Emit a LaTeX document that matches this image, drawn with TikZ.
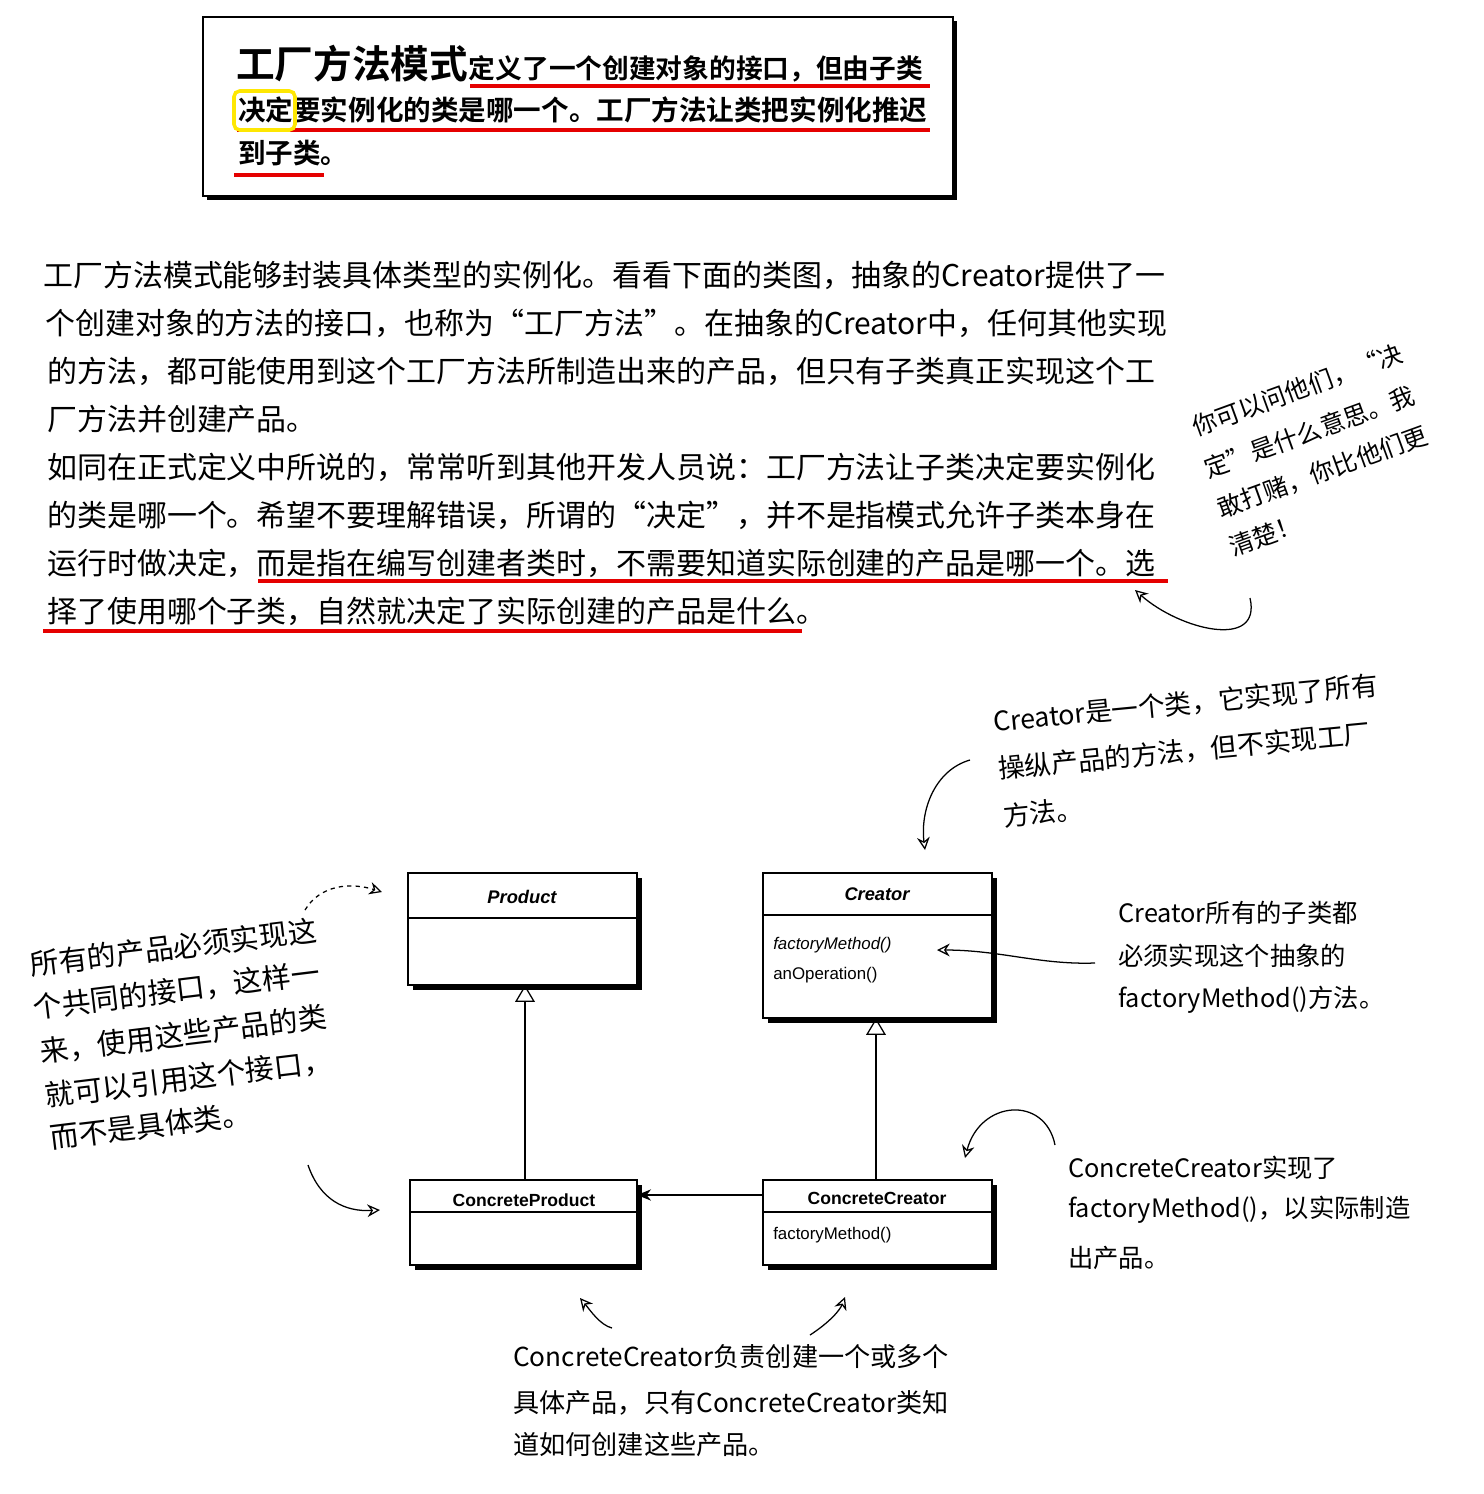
\documentclass[tikz,border=0pt]{standalone}
\usepackage{fontspec}
\setmainfont{Liberation Sans}
\newfontfamily\cjk{Noto Sans CJK SC}
\newfontfamily\cjkb[BoldFont={Noto Sans CJK SC Bold}]{Noto Sans CJK SC}
\usetikzlibrary{arrows.meta}
\begin{document}
\begin{tikzpicture}[x=0.025cm,y=-0.025cm,
  txt/.style={anchor=west,inner sep=0pt,font=\cjk\fontsize{21.3}{24}\selectfont},
  hand/.style={anchor=west,inner sep=0pt,font=\cjk\fontsize{18}{20}\selectfont},
  redl/.style={red!90!black,line width=2.2pt},
  cls/.style={draw,line width=0.8pt,fill=white},
  ctitle/.style={font=\bfseries\itshape\fontsize{13}{15}\selectfont},
  ctitlen/.style={font=\bfseries\fontsize{12.5}{15}\selectfont},
  meth/.style={anchor=west,inner sep=0pt,font=\fontsize{12}{14}\selectfont},
  harrow/.style={line width=0.9pt,-{Stealth[open,length=9pt,width=9pt]}},
  inh/.style={line width=0.9pt,-{Triangle[open,length=12pt,width=14pt]}}]
\useasboundingbox[fill=white] (0,0) rectangle (1484,1494);
% definition box
\fill (207,21) rectangle (957,200);
\draw[line width=1.2pt,fill=white] (203,17) rectangle (953,196);
\node[anchor=base west,inner sep=0pt,font=\cjkb\bfseries\fontsize{27.5}{30}\selectfont] (d1a) at (236,78) {工厂方法模式};
\node[anchor=base west,inner sep=0pt,font=\cjkb\bfseries\fontsize{19}{22}\selectfont] (d1b) at (d1a.base east) {定义了一个创建对象的接口，但由子类};
\node[anchor=base west,inner sep=0pt,font=\cjkb\bfseries\fontsize{19.6}{22}\selectfont] (d2) at (238,120) {决定要实例化的类是哪一个。工厂方法让类把实例化推迟};
\node[anchor=base west,inner sep=0pt,font=\cjkb\bfseries\fontsize{19.6}{22}\selectfont] (d3) at (238,163) {到子类。};
\draw[redl] (470,86) -- (930,86);
\draw[redl] (237,130) -- (930,130);
\draw[redl] (234,175) -- (324,175);
\draw[yellow!90!orange,line width=2.5pt,rounded corners=4pt] (234,91) rectangle (295,130);
% paragraph
\node[txt] (p1) at (43,275) {工厂方法模式能够封装具体类型的实例化。看看下面的类图，抽象的Creator提供了一};
\node[txt] (p2) at (45,323) {个创建对象的方法的接口，也称为“工厂方法”。在抽象的Creator中，任何其他实现};
\node[txt] (p3) at (47,371) {的方法，都可能使用到这个工厂方法所制造出来的产品，但只有子类真正实现这个工};
\node[txt] (p4) at (47,419) {厂方法并创建产品。};
\node[txt] (p5) at (47,467) {如同在正式定义中所说的，常常听到其他开发人员说：工厂方法让子类决定要实例化};
\node[txt] (p6) at (47,515) {的类是哪一个。希望不要理解错误，所谓的“决定”，并不是指模式允许子类本身在};
\node[txt] (p7) at (47,563) {运行时做决定，而是指在编写创建者类时，不需要知道实际创建的产品是哪一个。选};
\node[txt] (p8) at (47,611) {择了使用哪个子类，自然就决定了实际创建的产品是什么。};
\draw[redl] (258,581) -- (1168,581);
\draw[redl] (43,631) -- (802,631);
% handwritten top right
\node[hand,rotate=20,font=\cjk\fontsize{17.5}{20}\selectfont] (h1) at (1193,428) {你可以问他们，“决};
\node[hand,rotate=20,font=\cjk\fontsize{17.5}{20}\selectfont] (h2) at (1205,470) {定”是什么意思。我};
\node[hand,rotate=20,font=\cjk\fontsize{17.5}{20}\selectfont] (h3) at (1218,510) {敢打赌，你比他们更};
\node[hand,rotate=20,font=\cjk\fontsize{17.5}{20}\selectfont] (h4) at (1230,548) {清楚！};
\coordinate (ha) at (1250,598);
\coordinate (hb) at (1135,590);
\draw[harrow] (ha) .. controls (1262,650) and (1180,630) .. (hb);
% classes
\fill (413,878) rectangle (642,990);
\draw[cls] (408,873) rectangle (637,985);
\draw[line width=0.8pt] (408,918) -- (637,918);
\node[ctitle] (product) at (522,897) {Product};
\fill (768,878) rectangle (997,1023);
\draw[cls] (763,873) rectangle (992,1018);
\draw[line width=0.8pt] (763,915) -- (992,915);
\node[ctitle] (creator) at (877,894) {Creator};
\node[meth,font=\itshape\fontsize{12}{14}\selectfont] (fm1) at (773,945) {factoryMethod()};
\node[meth] (ao) at (773,975) {anOperation()};
\fill (415,1185) rectangle (642,1270);
\draw[cls] (410,1180) rectangle (637,1265);
\draw[line width=0.8pt] (410,1212) -- (637,1212);
\node[ctitlen] (cprod) at (524,1200) {ConcreteProduct};
\fill (768,1185) rectangle (997,1270);
\draw[cls] (763,1180) rectangle (992,1265);
\draw[line width=0.8pt] (763,1212) -- (992,1212);
\node[ctitlen] (ccre) at (877,1198) {ConcreteCreator};
\node[meth] (fm2) at (773,1235) {factoryMethod()};
\coordinate (cpt) at (525,1180); \coordinate (pb) at (525,985);
\coordinate (cct) at (876,1180); \coordinate (cb) at (876,1018);
\draw[inh] (cpt) -- (pb);
\draw[inh] (cct) -- (cb);
\coordinate (ccl) at (763,1195); \coordinate (cpr) at (637,1195);
\draw[line width=0.9pt,-{Stealth[length=10pt,width=8pt]}] (ccl) -- (cpr);
% note creator
\node[hand,rotate=5.5,font=\cjk\fontsize{19}{22}\selectfont] (n1) at (993,722) {Creator是一个类，它实现了所有};
\node[hand,rotate=5.5,font=\cjk\fontsize{19}{22}\selectfont] (n2) at (998,769) {操纵产品的方法，但不实现工厂};
\node[hand,rotate=5.5,font=\cjk\fontsize{19}{22}\selectfont] (n3) at (1003,816) {方法。};
\coordinate (na) at (970,760); \coordinate (nb) at (925,850);
\draw[harrow] (na) .. controls (935,770) and (920,810) .. (nb);
% left note
\node[hand,rotate=7,font=\cjk\fontsize{20.5}{22}\selectfont] (l1) at (30,965) {所有的产品必须实现这};
\node[hand,rotate=7,font=\cjk\fontsize{20.5}{22}\selectfont] (l2) at (33,1008) {个共同的接口，这样一};
\node[hand,rotate=7,font=\cjk\fontsize{20.5}{22}\selectfont] (l3) at (40,1052) {来，使用这些产品的类};
\node[hand,rotate=7,font=\cjk\fontsize{20.5}{22}\selectfont] (l4) at (45,1096) {就可以引用这个接口，};
\node[hand,rotate=7,font=\cjk\fontsize{20.5}{22}\selectfont] (l5) at (50,1138) {而不是具体类。};
\coordinate (la) at (305,910); \coordinate (lb) at (382,892);
\draw[harrow,dashed] (la) .. controls (320,885) and (350,882) .. (lb);
\coordinate (lc) at (308,1165); \coordinate (ld) at (380,1210);
\draw[harrow] (lc) .. controls (320,1200) and (345,1212) .. (ld);
% right note
\node[hand] (r1) at (1118,913) {Creator所有的子类都};
\node[hand] (r2) at (1118,956) {必须实现这个抽象的};
\node[hand] (r3) at (1118,1000) {factoryMethod()方法。};
\coordinate (ra) at (1095,963); \coordinate (rb) at (937,950);
\draw[harrow] (ra) .. controls (1040,965) and (1000,950) .. (rb);
% concrete creator note
\node[hand,font=\cjk\fontsize{18}{22}\selectfont] (c1) at (1068,1168) {ConcreteCreator实现了};
\node[hand,font=\cjk\fontsize{18}{22}\selectfont] (c2) at (1068,1210) {factoryMethod()，以实际制造};
\node[hand,font=\cjk\fontsize{18}{22}\selectfont] (c3) at (1068,1258) {出产品。};
\coordinate (ca) at (1055,1145); \coordinate (cb2) at (965,1158);
\draw[harrow] (ca) .. controls (1045,1095) and (980,1100) .. (cb2);
% bottom note
\node[hand,font=\cjk\fontsize{18.6}{22}\selectfont] (b1) at (513,1357) {ConcreteCreator负责创建一个或多个};
\node[hand,font=\cjk\fontsize{18.6}{22}\selectfont] (b2) at (513,1403) {具体产品，只有ConcreteCreator类知};
\node[hand,font=\cjk\fontsize{18.6}{22}\selectfont] (b3) at (513,1445) {道如何创建这些产品。};
\coordinate (ba) at (612,1328); \coordinate (bb) at (580,1298);
\draw[harrow] (ba) .. controls (600,1325) and (590,1310) .. (bb);
\coordinate (bc) at (810,1335); \coordinate (bd) at (845,1297);
\draw[harrow] (bc) .. controls (830,1322) and (840,1310) .. (bd);
\end{tikzpicture}
\end{document}
